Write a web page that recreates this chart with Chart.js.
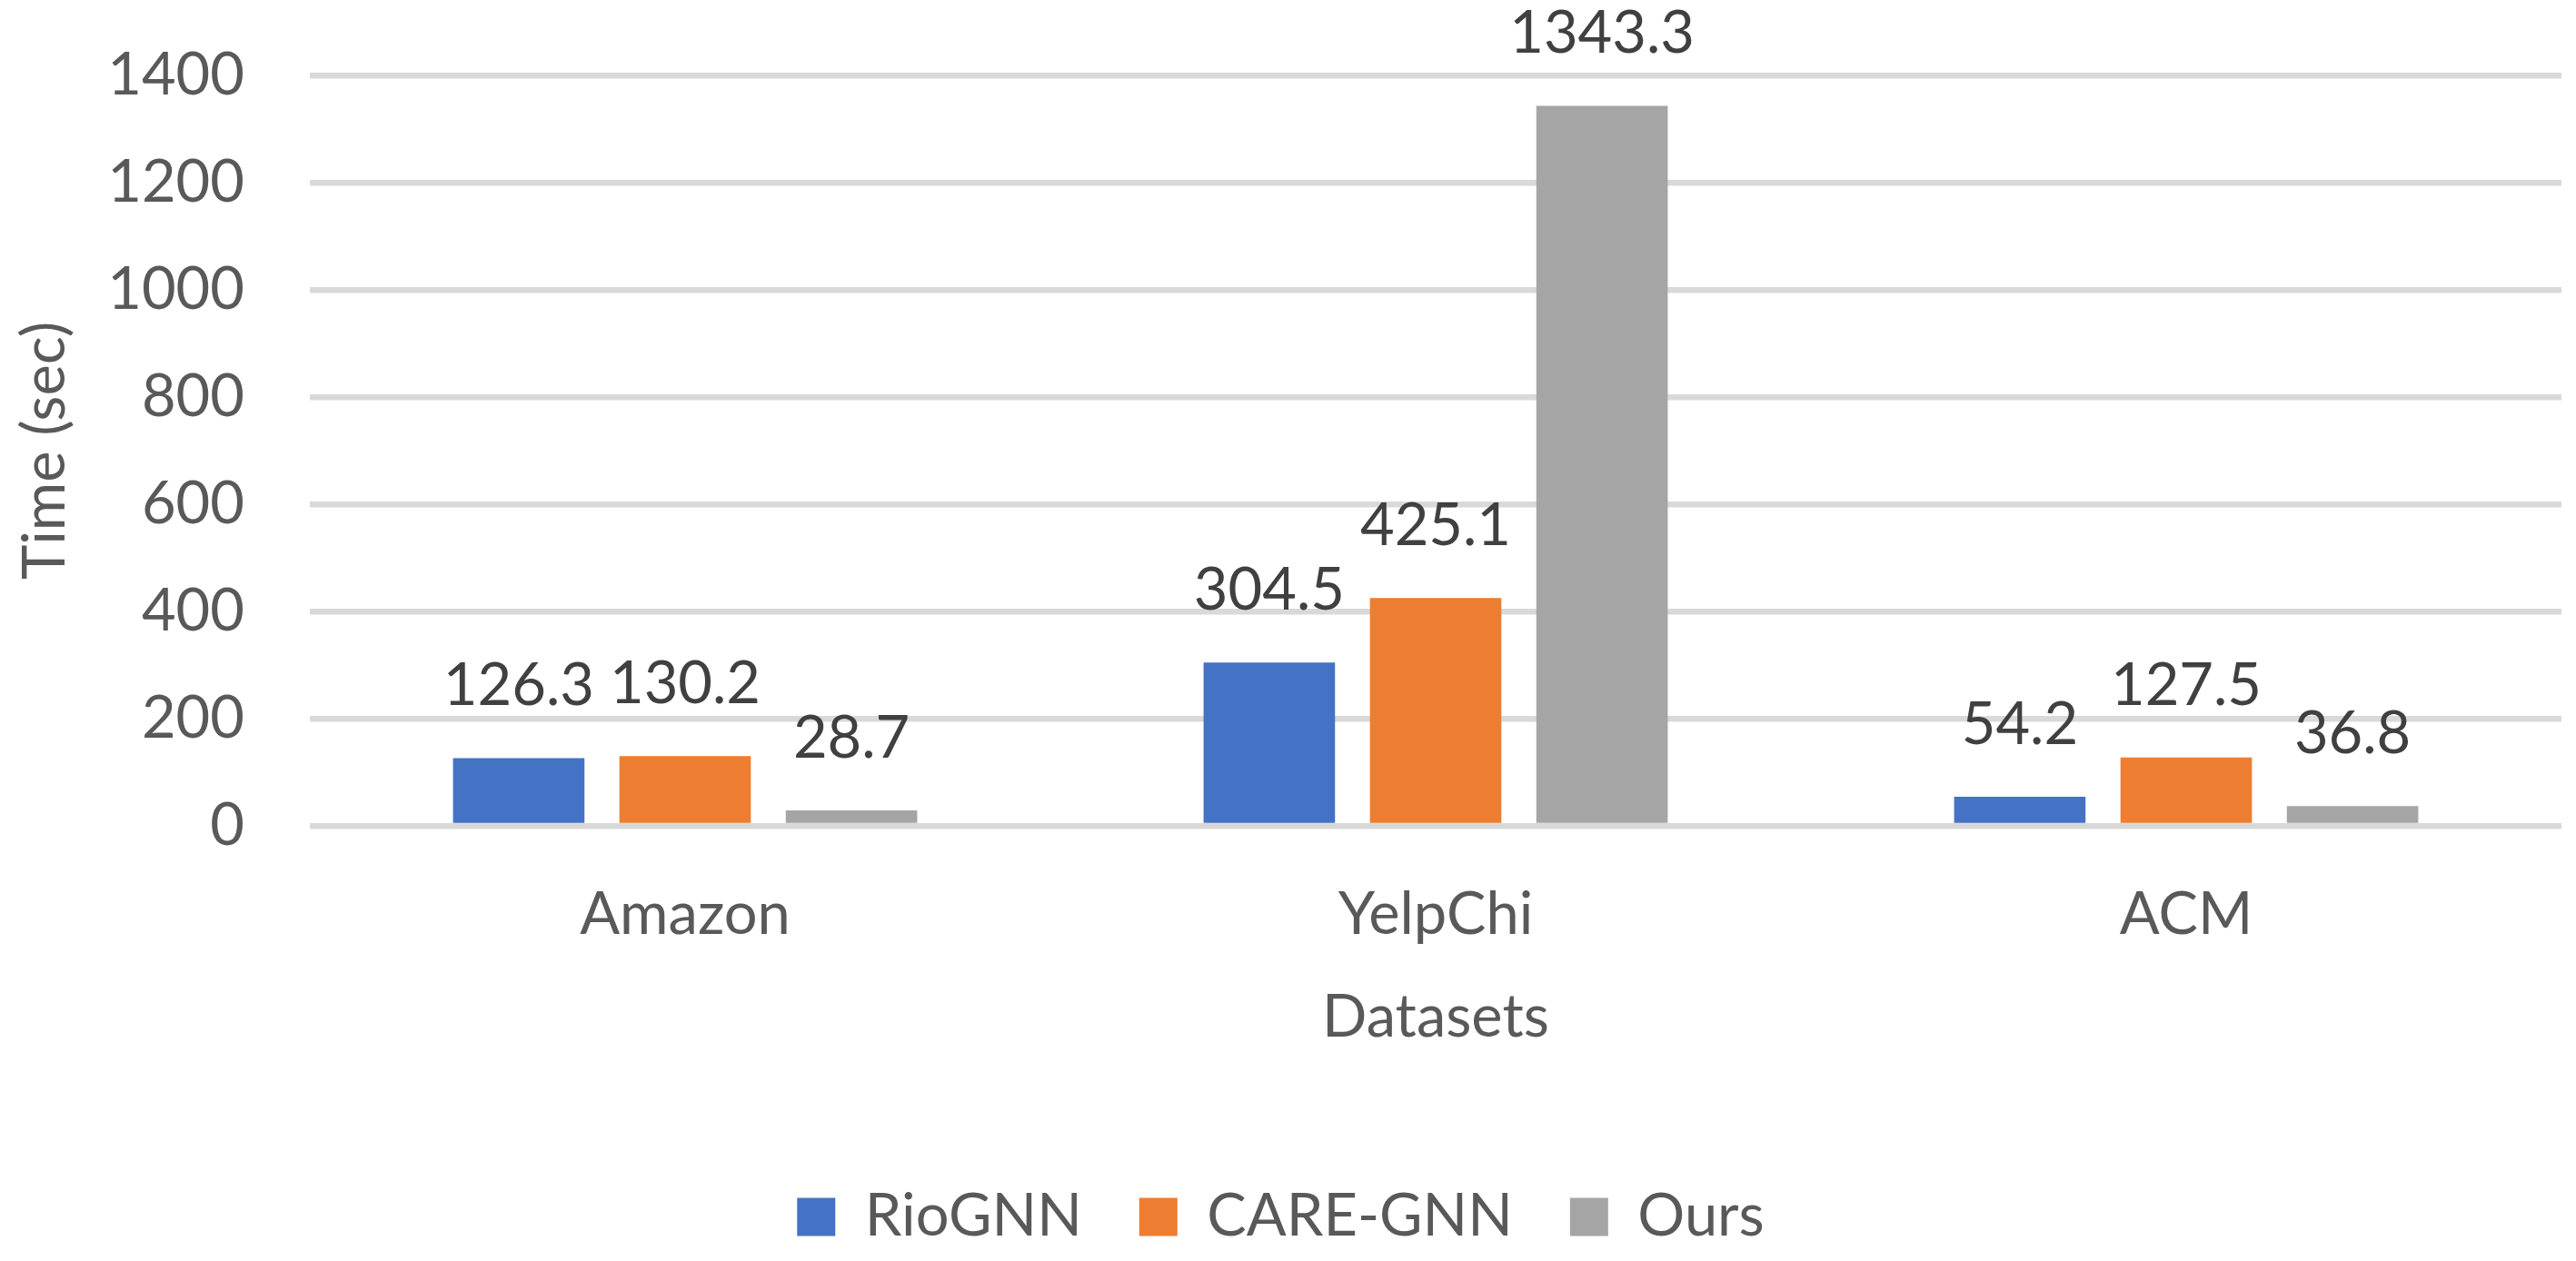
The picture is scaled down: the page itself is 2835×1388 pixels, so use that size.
<!DOCTYPE html>
<html>
<head>
<meta charset="utf-8">
<script src="https://cdn.jsdelivr.net/npm/chart.js@4.4.1/dist/chart.umd.min.js"></script>
<style>
  html, body { margin: 0; padding: 0; background: #ffffff; }
  #wrap { width: 2835px; height: 1388px; }
</style>
</head>
<body>
<div id="wrap"><canvas id="c" width="2835" height="1388"></canvas></div>
<script>
const categories = ["Amazon", "YelpChi", "ACM"];
const seriesNames = ["RioGNN", "CARE-GNN", "Ours"];
const rioGNN = [126.3, 304.5, 54.2];
const careGNN = [130.2, 425.1, 127.5];
const ours = [28.7, 1343.3, 36.8];
const yMin = 0;
const yMax = 1400;
const yStep = 200;
const xTitle = "Datasets";
const yTitle = "Time (sec)";

const FONT = "Lato, 'Open Sans', sans-serif";
const FS = 65;

const valueLabels = {
  id: 'valueLabels',
  afterDatasetsDraw(chart) {
    const ctx = chart.ctx;
    ctx.save();
    ctx.font = FS + "px " + FONT;
    ctx.fillStyle = "#404040";
    ctx.textAlign = "center";
    ctx.textBaseline = "alphabetic";
    chart.data.datasets.forEach((ds, di) => {
      const meta = chart.getDatasetMeta(di);
      meta.data.forEach((bar, i) => {
        ctx.fillText(ds.data[i].toFixed(1), bar.x, bar.y - 58);
      });
    });
    ctx.restore();
  }
};

new Chart(document.getElementById('c'), {
  type: 'bar',
  data: {
    labels: categories,
    datasets: [
      { label: seriesNames[0], data: rioGNN, backgroundColor: '#4472C4' },
      { label: seriesNames[1], data: careGNN, backgroundColor: '#ED7D31' },
      { label: seriesNames[2], data: ours, backgroundColor: '#A5A5A5' }
    ]
  },
  options: {
    responsive: false,
    animation: false,
    devicePixelRatio: 1,
    layout: { padding: { left: 0, right: 16, top: 83, bottom: 6 } },
    datasets: { bar: { categoryPercentage: 0.665, barPercentage: 0.79 } },
    plugins: {
      tooltip: { enabled: false },
      legend: {
        position: 'bottom',
        labels: {
          boxWidth: 42, boxHeight: 42, padding: 63,
          color: '#595959',
          font: { family: FONT, size: FS }
        }
      }
    },
    scales: {
      x: {
        grid: { display: false },
        border: { display: false },
        ticks: { color: '#595959', font: { family: FONT, size: FS }, padding: 51, maxRotation: 0 },
        title: { display: true, text: xTitle, color: '#595959', font: { family: FONT, size: FS }, padding: { top: 0, bottom: 85 } },
        afterFit(s) { s.height = 335; }
      },
      y: {
        min: yMin, max: yMax,
        ticks: { stepSize: yStep, color: '#595959', font: { family: FONT, size: FS }, padding: 72,
                 callback: (v) => String(v) },
        grid: { color: '#D9D9D9', lineWidth: 6.5, drawTicks: false },
        border: { display: false },
        title: { display: true, text: yTitle, color: '#595959', font: { family: FONT, size: FS }, padding: { top: 11, bottom: 0 } },
        afterFit(s) { s.width = 341; s.paddingTop = 0; s.paddingBottom = 0; }
      }
    }
  },
  plugins: [valueLabels]
});
</script>
</body>
</html>
